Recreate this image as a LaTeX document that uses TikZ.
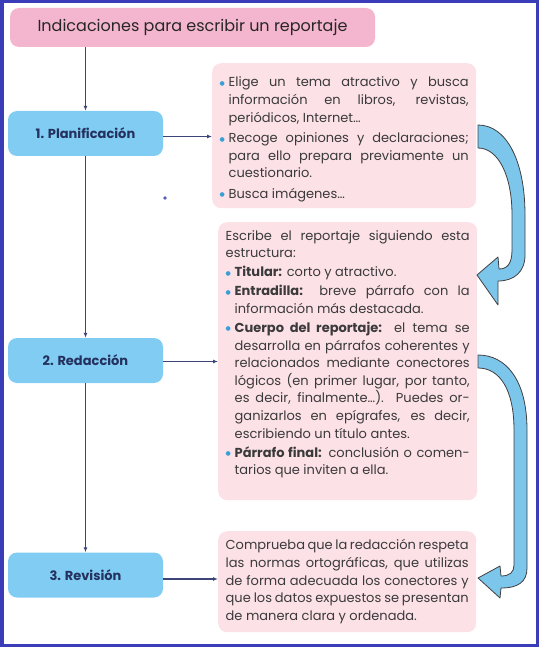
\documentclass[tikz,border=0pt]{standalone}
\usepackage{fontspec}
\setmainfont{Poppins}
\newfontfamily\symfont{DejaVu Sans}
\usepackage{tikz}
\usetikzlibrary{arrows.meta,positioning}
\definecolor{frame}{HTML}{3B3DB8}
\definecolor{rose}{HTML}{F4B6CE}
\definecolor{roselite}{HTML}{FCE1E7}
\definecolor{sky}{HTML}{80CCF2}
\definecolor{skyarrow}{HTML}{7CC6EC}
\definecolor{navy}{HTML}{3C4478}
\definecolor{stepink}{HTML}{24305E}
\definecolor{ink}{HTML}{3A3A3A}
\definecolor{dot}{HTML}{3A9FD6}
\setlength{\parindent}{0pt}
% bullet item with hanging indent
\newcommand{\itm}[1][1.5pt]{\par\vspace{#1}\hangindent=9pt\hangafter=1\noindent
  \makebox[9pt][l]{\raisebox{1.6pt}{\textcolor{dot}{\symfont\fontsize{6}{6}\selectfont ●}}}}

\begin{document}
\begin{tikzpicture}[x=1pt,y=-1pt,
    font=\fontsize{13}{17.6}\selectfont\color{ink},
    titlebox/.style={fill=rose,rounded corners=9pt,minimum width=365pt,minimum height=39pt,
      font=\fontsize{16}{18}\selectfont\color{black!85}},
    stepbox/.style={fill=sky,rounded corners=9pt,minimum width=155pt,minimum height=45pt,
      font=\fontsize{13}{15}\selectfont\bfseries\color{stepink}},
    textbox/.style={fill=roselite,rounded corners=9pt,anchor=north west,align=justify,
      inner xsep=7.5pt,inner ysep=5pt},
    link/.style={navy,line width=1.1pt,-{Latex[length=5pt,width=4pt]}},
    bigarrow/.style={fill=skyarrow,draw=black!75,line width=0.8pt,line join=round}]
  \useasboundingbox (0,0) rectangle (539,647);
  \draw[frame,line width=3.5pt] (1.75,1.75) rectangle (537.25,645.25);

  % title and steps
  \node[titlebox] (title) at (192.5,27.5) {Indicaciones para escribir un reportaje};
  \node[stepbox] (plan) at (85.5,133.5) {1. Planificación};
  \node[stepbox] (redac) at (85.5,360.5) {2. Redacción};
  \node[stepbox] (revis) at (85.5,575) {3. Revisión};

  % text boxes
  \node[textbox,text width=249pt,minimum height=145pt] (tplan) at (212,63) {%
    \itm[0pt]Elige un tema atractivo y busca\linebreak información en libros, revistas,\linebreak
    periódicos, Internet…
    \itm[3pt]Recoge opiniones y declaraciones;\linebreak para ello prepara previamente un\linebreak
    cuestionario.
    \itm[3pt]Busca imágenes…};
  \node[textbox,text width=244pt,minimum height=278pt] (tredac) at (218,222) {%
    Escribe el reportaje siguiendo esta\linebreak estructura:
    \itm \textbf{Titular:} corto y atractivo.
    \itm \textbf{Entradilla:} breve párrafo con la\linebreak información más destacada.
    \itm \textbf{Cuerpo del reportaje:} el tema se\linebreak desarrolla en párrafos coherentes y\linebreak
    relacionados mediante conectores\linebreak lógicos (en primer lugar, por tanto,\linebreak
    es decir, finalmente…). Puedes or-\linebreak ganizarlos en epígrafes, es decir,\linebreak
    escribiendo un título antes.
    \itm \textbf{Párrafo final:} conclusión o comen-\linebreak tarios que inviten a ella.
    \par\kern14pt};
  \node[textbox,text width=243pt,minimum height=101pt] (trevis) at (218,531) {%
    Comprueba que la redacción respeta\linebreak las normas ortográficas, que utilizas\linebreak
    de forma adecuada los conectores y\linebreak que los datos expuestos se presentan\linebreak
    de manera clara y ordenada.};

  % connectors
  \draw[link] (plan.north |- title.south) -- (plan.north);
  \draw[link] (plan) -- (redac);
  \draw[link] (redac) -- (revis);
  \draw[link] ([yshift=-3pt]plan.east) -- ([yshift=-3pt]plan.east -| tplan.west);
  \draw[link] ([yshift=-1pt]redac.east) -- ([yshift=-1pt]redac.east -| tredac.west);
  \draw[link] ([yshift=-4pt]revis.east) -- ([yshift=-4pt]revis.east -| trevis.west);
  \fill[frame!85] (165,198) circle (1.8);

  % curved arrows
  \draw[bigarrow] (478,125) .. controls (506,125) and (525,160) .. (525,215) -- (525,255)
    .. controls (525,272) and (514,281) .. (498,281) -- (498,305) -- (477,275) -- (498,257)
    -- (499,269) .. controls (507,269) and (512,264) .. (512,250) -- (512,215)
    .. controls (512,175) and (498,148) .. (478,148) -- cycle;
  \draw[bigarrow] (478,355) .. controls (506,355) and (527,380) .. (527,430) -- (527,568)
    .. controls (527,582) and (518,588) .. (501,588) -- (500,598) -- (478,578) -- (500,566)
    -- (501,576) .. controls (510,576) and (514,572) .. (514,565) -- (514,430)
    .. controls (514,390) and (500,368) .. (478,368) -- cycle;
\end{tikzpicture}
\end{document}
